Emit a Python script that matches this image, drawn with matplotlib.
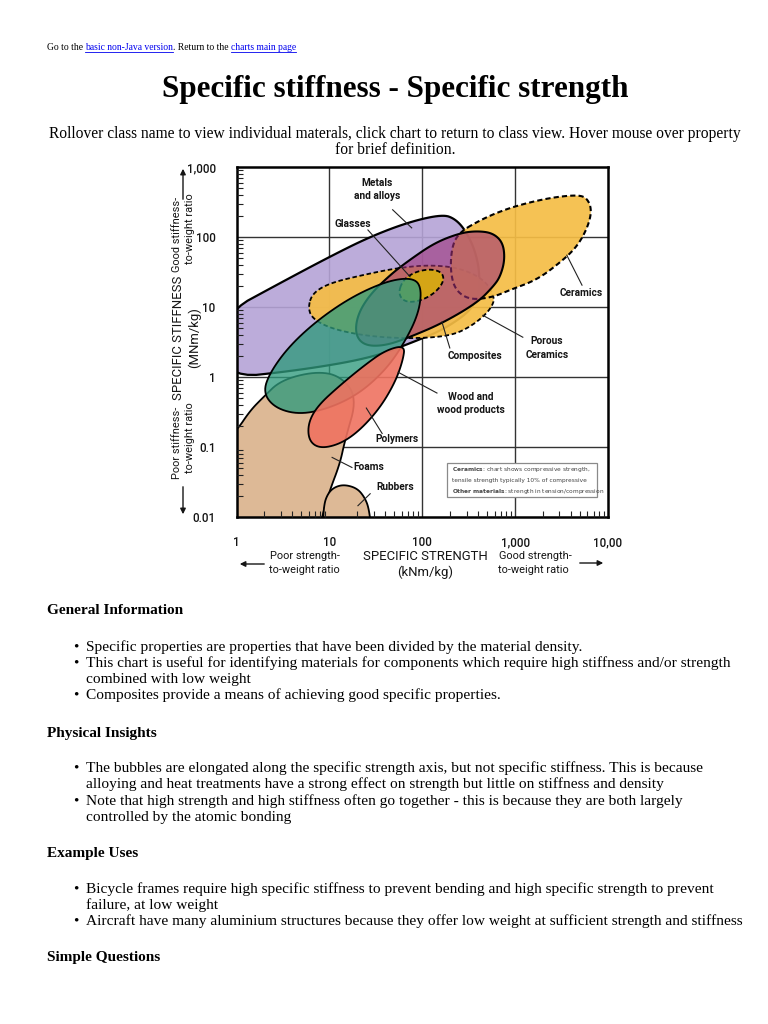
import numpy as np
import matplotlib.pyplot as plt
from matplotlib import font_manager
from matplotlib.lines import Line2D
from matplotlib.patches import Rectangle, FancyArrowPatch
from matplotlib.ticker import FixedLocator, NullFormatter

W, H = 768, 1024

# bubble outlines: specific strength (kNm/kg), specific stiffness (MNm/kg)
metals_strength = [0.7, 2.95, 10, 27, 73, 166, 225, 290, 370, 420, 390, 185, 73, 27, 4.8, 0.7]
metals_stiffness = [7.8, 22, 52, 100, 165, 210, 182, 126, 65, 29, 10.7, 5, 3, 1.85, 1.25, 0.95]

porous_strength = [5.9, 6.6, 10.1, 23, 53, 120, 256, 470, 605, 560, 450, 325, 215, 113, 48, 21, 10.1, 6.5]
porous_stiffness = [10, 15.8, 22, 28.7, 36, 40, 36, 24.5, 13.8, 10, 7.2, 5.2, 4, 3.6, 3.6, 4, 5, 6.9]

ceramics_strength = [256, 390, 635, 1120, 2360, 4620, 5930, 6700, 6070, 4620, 3040, 1720, 880, 575, 325, 225, 200, 210]
ceramics_stiffness = [118, 165, 223, 288, 363, 400, 363, 245, 139, 72, 43, 24.5, 17.5, 13.8, 12.6, 17.5, 34, 77]

composites_strength = [256, 390, 575, 740, 775, 690, 575, 390, 166, 73, 40, 24, 19, 20, 27, 45, 73, 137]
composites_stiffness = [114, 122, 114, 83, 47, 27, 19.3, 11.5, 5.9, 3.7, 2.8, 2.8, 4, 7.6, 14.8, 28.7, 47, 83]

glasses_strength = [55, 62, 83, 121, 163, 172, 137, 94, 65]
glasses_stiffness = [15.6, 24.3, 31.6, 35, 31.6, 23.4, 15.8, 12.1, 11.7]

foams_strength = [0.7, 0.7, 1.0, 1.4, 1.93, 3.0, 7.0, 13, 20, 14.7, 13, 10.1, 8.3, 7.9]
foams_stiffness = [0.006, 0.12, 0.17, 0.33, 0.51, 0.9, 1.2, 1.05, 0.51, 0.124, 0.058, 0.024, 0.01, 0.006]

rubbers_strength = [8.5, 8.7, 9.7, 11.5, 14.7, 20, 24, 26.7, 28.5]
rubbers_stiffness = [0.006, 0.015, 0.022, 0.027, 0.029, 0.0256, 0.019, 0.0132, 0.006]

wood_strength = [1.93, 2.3, 3.77, 7.9, 18.8, 45, 83, 99, 90, 62, 40, 21, 10.1, 4.8, 2.6]
wood_stiffness = [0.6, 1.17, 2.85, 6.9, 14.8, 24.3, 26, 17.5, 7.6, 2.85, 1.25, 0.58, 0.36, 0.29, 0.36]

polymers_strength = [65, 62, 51, 35, 21, 13, 7.9, 6, 5.9, 7.5, 13, 24, 40]
polymers_stiffness = [2.85, 1.74, 0.84, 0.36, 0.17, 0.11, 0.095, 0.123, 0.22, 0.39, 0.76, 1.48, 2.4]

# class labels and their leader lines
label_names = ["Metals\nand alloys", "Glasses", "Ceramics", "Porous\nCeramics", "Composites",
               "Wood and\nwood products", "Polymers", "Foams", "Rubbers"]
label_x = [32.5, 18, 5100, 2200, 370, 333, 53, 26.7, 51]
label_y = [473, 154, 15.8, 2.6, 2.0, 0.42, 0.132, 0.052, 0.027]
leader_x0 = [48, 26, 5250, 1210, 198, 144, 37, 17.5, 27.5]
leader_y0 = [245, 126, 20.5, 3.7, 2.6, 0.59, 0.156, 0.051, 0.0215]
leader_x1 = [77, 74, 3600, 450, 163, 55, 25, 10.7, 20.3]
leader_y1 = [135, 27, 55, 7.6, 6.1, 1.17, 0.36, 0.071, 0.0145]

x_ticks = [1, 10, 100, 1000, 10000]
x_ticklabels = ["1", "10", "100", "1,000", "10,00"]
y_ticks = [0.01, 0.1, 1, 10, 100, 1000]
y_ticklabels = ["0.01", "0.1", "1", "10", "100", "1,000"]

# narrow sans for the chart lettering if it is there
installed = {f.name for f in font_manager.fontManager.ttflist}
SANS = ["Liberation Sans Narrow"] if "Liberation Sans Narrow" in installed else ["Roboto", "DejaVu Sans"]
TICKS = ["Roboto", "DejaVu Sans"]
SERIF = ["Liberation Serif", "DejaVu Serif"]
INK = "#151515"


def smooth(xs, ys, n=3):
    # round off the outline corners (Chaikin), done in log space
    p = np.column_stack([np.log10(xs), np.log10(ys)])
    for _ in range(n):
        q = np.roll(p, -1, axis=0)
        p = np.stack([0.75 * p + 0.25 * q, 0.25 * p + 0.75 * q], axis=1).reshape(-1, 2)
    return 10 ** p[:, 0], 10 ** p[:, 1]


def bubble(ax, xs, ys, color, alpha, ls="-", lw=1.3, z=1):
    sx, sy = smooth(xs, ys)
    ax.fill(sx, sy, facecolor=color, alpha=alpha, edgecolor="none", zorder=z)
    ax.fill(sx, sy, facecolor="none", edgecolor="black", lw=lw, ls=ls, zorder=z + 0.01)


def ft(x, y, s, **kw):
    kw.setdefault("va", "center")
    return fig.text(x / W, 1 - y / H, s, **kw)


def fit_size(s, width, **kw):
    # font size that makes s about `width` pixels wide
    t = fig.text(0, 0, s, fontsize=10, **kw)
    w = t.get_window_extent(renderer=r).width
    t.remove()
    return 10 * width / w


fig = plt.figure(figsize=(W / 100, H / 100), dpi=100)
fig.patch.set_facecolor("white")
r = fig.canvas.get_renderer()

big = fit_size("SPECIFIC STRENGTH", 124, family=SANS)
small = fit_size("Poor strength-", 70, family=SANS)
lab = fit_size("Composites", 55, family=SANS, weight="bold")

# ---- chart ----
ax = fig.add_axes([236.5 / W, 1 - 517 / H, 371.5 / W, 350 / H])
ax.set_xscale("log")
ax.set_yscale("log")
ax.set_xlim(1, 10000)
ax.set_ylim(0.01, 1000)

for v in x_ticks[1:-1]:
    ax.axvline(v, color="#333333", lw=1.0, zorder=0.5)
for v in y_ticks[1:-1]:
    ax.axhline(v, color="#333333", lw=1.0, zorder=0.5)

bubble(ax, metals_strength, metals_stiffness, "#b5a3d6", 0.9, lw=1.6, z=1)
bubble(ax, porous_strength, porous_stiffness, "#f5bd45", 0.92, ls=(0, (2.5, 1.5)), z=2)
bubble(ax, ceramics_strength, ceramics_stiffness, "#f5bd45", 0.92, ls=(0, (2.5, 1.5)), lw=1.5, z=2.1)
bubble(ax, composites_strength, composites_stiffness, "#9c2f78", 0.6, lw=1.5, z=3)
bubble(ax, glasses_strength, glasses_stiffness, "#d6a912", 0.95, ls=(0, (2.5, 1.5)), z=4)
bubble(ax, foams_strength, foams_stiffness, "#ddb996", 1.0, z=5)
bubble(ax, rubbers_strength, rubbers_stiffness, "#ddb996", 1.0, z=5.1)
bubble(ax, wood_strength, wood_stiffness, "#2f9a7c", 0.78, z=6)
bubble(ax, polymers_strength, polymers_stiffness, "#ef7260", 0.9, z=7)

for i, name in enumerate(label_names):
    ax.plot([leader_x0[i], leader_x1[i]], [leader_y0[i], leader_y1[i]], color="#222222", lw=0.8, zorder=9)
    ax.text(label_x[i], label_y[i], name, ha="center", va="center", fontsize=lab, weight="bold",
            family=SANS, color=INK, linespacing=1.4, zorder=10)

# note box
ax.add_patch(Rectangle((0.567, 0.057), 0.403, 0.097, transform=ax.transAxes, facecolor="white",
                       edgecolor="#8a8a8a", lw=0.9, zorder=8))
note = [r"$\bf{Ceramics}$: chart shows compressive strength,",
        "tensile strength typically 10% of compressive",
        r"$\bf{Other\ materials}$: strength in tension/compression"]
for i, s in enumerate(note):
    ax.text(0.58, 0.135 - i * 0.031, s, transform=ax.transAxes, fontsize=4.2, color="#444444",
            va="center", ha="left", zorder=9)

ax.xaxis.set_major_locator(FixedLocator(x_ticks))
ax.yaxis.set_major_locator(FixedLocator(y_ticks))
ax.set_xticklabels(x_ticklabels)
ax.set_yticklabels(y_ticklabels)
ax.xaxis.set_minor_locator(FixedLocator([m * 10 ** k for k in range(4) for m in range(2, 10)]))
ax.yaxis.set_minor_locator(FixedLocator([m * 10.0 ** k for k in range(-2, 3) for m in range(2, 10)]))
ax.xaxis.set_minor_formatter(NullFormatter())
ax.yaxis.set_minor_formatter(NullFormatter())
ax.tick_params(which="both", direction="in", top=False, right=False, width=0.8, color="#222222")
ax.tick_params(which="major", length=0, labelsize=8.3, labelcolor=INK)
ax.tick_params(axis="x", which="major", pad=14)
ax.tick_params(axis="y", which="major", pad=15)
ax.tick_params(which="minor", length=4)
for t in ax.get_xticklabels() + ax.get_yticklabels():
    t.set_family(TICKS)
    t.set_weight("medium")
ax.xaxis.set_zorder(12)
ax.yaxis.set_zorder(12)
for sp in ax.spines.values():
    sp.set_linewidth(1.8)
    sp.set_zorder(11)

# axis titles outside the frame
ft(425, 556, "SPECIFIC STRENGTH", ha="center", fontsize=big, family=SANS, color=INK)
ft(425, 572, "(kNm/kg)", ha="center", fontsize=big, family=SANS, color=INK)
ft(305, 556, "Poor strength-", ha="center", fontsize=small, family=SANS, color=INK)
ft(304, 570, "to-weight ratio", ha="center", fontsize=small, family=SANS, color=INK)
ft(535, 556, "Good strength-", ha="center", fontsize=small, family=SANS, color=INK)
ft(533, 570, "to-weight ratio", ha="center", fontsize=small, family=SANS, color=INK)

ft(178, 338, "SPECIFIC STIFFNESS", ha="center", rotation=90, fontsize=big, family=SANS, color=INK)
ft(194, 338, "(MNm/kg)", ha="center", rotation=90, fontsize=big, family=SANS, color=INK)
ft(177, 234, "Good stiffness-", ha="center", rotation=90, fontsize=small, family=SANS, color=INK)
ft(190, 229, "to-weight ratio", ha="center", rotation=90, fontsize=small, family=SANS, color=INK)
ft(177, 443, "Poor stiffness-", ha="center", rotation=90, fontsize=small, family=SANS, color=INK)
ft(190, 438, "to-weight ratio", ha="center", rotation=90, fontsize=small, family=SANS, color=INK)

for (x0, y0, x1, y1) in [(183, 202, 183, 166), (183, 484, 183, 517), (267, 564, 237, 564), (577, 563, 606, 563)]:
    fig.add_artist(FancyArrowPatch((x0 / W, 1 - y0 / H), (x1 / W, 1 - y1 / H), transform=fig.transFigure,
                                   arrowstyle="-|>", mutation_scale=8, lw=1.0, color=INK))

# ---- page text ----
x = 47
for s, link in [("Go to the ", False), ("basic non-Java version", True), (". Return to the ", False),
                ("charts main page", True)]:
    t = ft(x, 48, s, fontsize=6.95, family=SERIF, color="#0000ee" if link else "black")
    bb = t.get_window_extent(renderer=r)
    if link:
        fig.add_artist(Line2D([bb.x0 / W, bb.x1 / W], [(bb.y0 + 0.5) / H] * 2, color="#0000ee", lw=0.6))
    x += bb.width

ft(395, 90, "Specific stiffness - Specific strength", ha="center", fontsize=22.4, weight="bold", family=SERIF)
ft(395, 134, "Rollover class name to view individual materals, click chart to return to class view. Hover mouse over property",
   ha="center", fontsize=11.2, family=SERIF)
ft(395, 150, "for brief definition.", ha="center", fontsize=11.2, family=SERIF)

sections = [("General Information", 611), ("Physical Insights", 733), ("Example Uses", 853), ("Simple Questions", 957)]
for s, y in sections:
    ft(47, y, s, fontsize=11, weight="bold", family=SERIF)

bullets = [
    (647, "Specific properties are properties that have been divided by the material density.", True),
    (663, "This chart is useful for identifying materials for components which require high stiffness and/or strength", True),
    (679, "combined with low weight", False),
    (695, "Composites provide a means of achieving good specific properties.", True),
    (768, "The bubbles are elongated along the specific strength axis, but not specific stiffness. This is because", True),
    (784, "alloying and heat treatments have a strong effect on strength but little on stiffness and density", False),
    (801, "Note that high strength and high stiffness often go together - this is because they are both largely", True),
    (817, "controlled by the atomic bonding", False),
    (889, "Bicycle frames require high specific stiffness to prevent bending and high specific strength to prevent", True),
    (905, "failure, at low weight", False),
    (921, "Aircraft have many aluminium structures because they offer low weight at sufficient strength and stiffness", True),
]
for y, s, dot in bullets:
    if dot:
        ft(73, y, "\u2022", fontsize=11, family=SERIF)
    ft(86, y, s, fontsize=11.1, family=SERIF)

fig.savefig("out.png", dpi=100)
